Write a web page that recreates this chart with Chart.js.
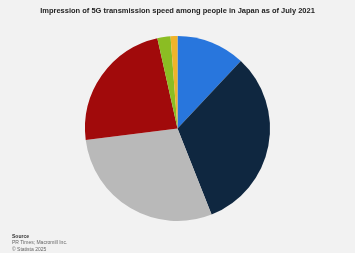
<!DOCTYPE html>
<html>
<head>
<meta charset="utf-8">
<script src="https://cdn.jsdelivr.net/npm/chart.js@4.4.1/dist/chart.umd.min.js"></script>
<style>
    html, body { margin: 0; padding: 0; background: #f2f2f2; }
    #wrap { position: relative; width: 355px; height: 253px; }
    #title {
        position: absolute; left: 0; top: 6px; width: 355px; text-align: center;
        font-family: "Liberation Sans", Arial, sans-serif; font-weight: bold; font-size: 7.5px; color: #222;
    }
    #source {
        position: absolute; left: 12px; top: 233px;
        font-family: "Liberation Sans", Arial, sans-serif; font-size: 5px; line-height: 6.3px; color: #666;
    }
    #source b { color: #333; }
</style>
</head>
<body>
<div id="wrap">
    <canvas id="pieChart" width="355" height="253"></canvas>
    <div id="title">Impression of 5G transmission speed among people in Japan as of July 2021</div>
    <div id="source"><b>Source</b><br>PR Times; Macromill Inc.<br>© Statista 2025</div>
</div>
<script>
const categories = ['Very fast', 'Fast', 'Neither', 'Slow', 'Very slow', 'Other'];
const shares = [12, 32, 29, 23.5, 2.3, 1.2];
const sliceColors = ['#2876dd', '#0f2740', '#b9b9b9', '#a10a0b', '#8bbd23', '#f0b429'];

document.addEventListener("DOMContentLoaded", function() {
    const ctx = document.getElementById('pieChart').getContext('2d');

    new Chart(ctx, {
        type: 'pie',
        data: {
            labels: categories,
            datasets: [{
                data: shares,
                backgroundColor: sliceColors,
                borderWidth: 0
            }]
        },
        options: {
            responsive: false,
            animation: false,
            layout: {
                padding: { top: 36, bottom: 32, left: 0, right: 0 }
            },
            plugins: {
                legend: { display: false },
                tooltip: { enabled: false }
            }
        }
    });
});
</script>
</body>
</html>
